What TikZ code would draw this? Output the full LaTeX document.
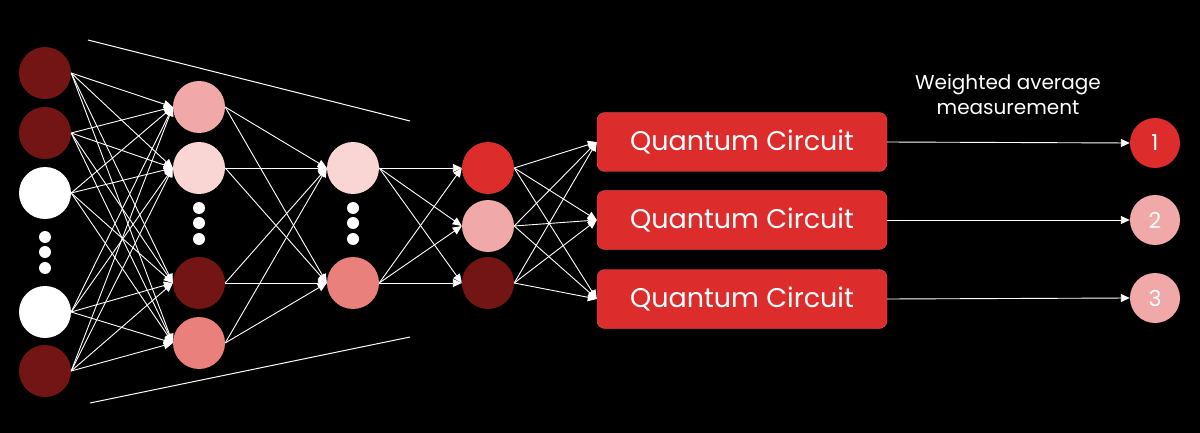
\documentclass[tikz,border=0pt]{standalone}
\usepackage{fontspec}
\setmainfont{Poppins}
\usetikzlibrary{arrows.meta}
\definecolor{dk}{HTML}{741515}
\definecolor{rd}{HTML}{DD2C2C}
\definecolor{pk}{HTML}{F0A8A8}
\definecolor{lp}{HTML}{F9D5D3}
\definecolor{sl}{HTML}{E9807C}
\begin{document}
\begin{tikzpicture}[x=1pt,y=-1pt,
 neur/.style={circle,minimum size=52pt,inner sep=0pt},
 dotn/.style={circle,fill=white,minimum size=12pt,inner sep=0pt},
 edge/.style={white,line width=0.9pt,-{Triangle[width=8pt,length=9pt]}},
 qc/.style={rounded corners=8pt,fill=rd,draw=rd!80!white,minimum width=290pt,minimum height=59pt,text=white,font=\fontsize{27}{30}\selectfont}]
\fill[black] (0,0) rectangle (1200,433);
\useasboundingbox (0,0) rectangle (1200,433);
% layer 1
\node[neur,fill=dk] (a1) at (45,73) {};
\node[neur,fill=dk] (a2) at (45,133) {};
\node[neur,fill=white] (a3) at (45,193) {};
\node[neur,fill=white] (a4) at (45,312) {};
\node[neur,fill=dk] (a5) at (45,371) {};
\foreach \y [count=\i] in {237,252,268} \node[dotn] (ad\i) at (45,\y) {};
% layer 2
\node[neur,fill=pk] (b1) at (199,107) {};
\node[neur,fill=lp] (b2) at (199,168) {};
\node[neur,fill=dk] (b3) at (199,283) {};
\node[neur,fill=sl] (b4) at (199,343) {};
\foreach \y [count=\i] in {208,223,239} \node[dotn] (bd\i) at (199,\y) {};
% layer 3
\node[neur,fill=lp] (c1) at (353,168) {};
\node[neur,fill=sl] (c2) at (353,283) {};
\foreach \y [count=\i] in {208,223,239} \node[dotn] (cd\i) at (353,\y) {};
% layer 4
\node[neur,fill=rd] (d1) at (488,168) {};
\node[neur,fill=pk] (d2) at (488,226) {};
\node[neur,fill=dk] (d3) at (488,283) {};
% boxes
\node[qc] (q1) at (742,142) {Quantum Circuit};
\node[qc] (q2) at (742,220) {Quantum Circuit};
\node[qc] (q3) at (742,299) {Quantum Circuit};
% outputs
\node[neur,minimum size=50pt,fill=rd,text=white,font=\fontsize{22}{24}\selectfont] (o1) at (1155,143) {1};
\node[neur,minimum size=50pt,fill=pk,text=white,font=\fontsize{22}{24}\selectfont] (o2) at (1155,220) {2};
\node[neur,minimum size=50pt,fill=pk,text=white,font=\fontsize{22}{24}\selectfont] (o3) at (1155,298) {3};
\node[text=white,align=center,font=\fontsize{20}{25}\selectfont] (lab) at (1008,94) {Weighted average\\measurement};
% edges
\foreach \i in {a1,a2,a3,a4,a5} \foreach \j in {b1,b2,b3,b4} \draw[edge] (\i.east) -- (\j.west);
\foreach \i in {b1,b2,b3,b4} \foreach \j in {c1,c2} \draw[edge] (\i.east) -- (\j.west);
\foreach \i in {c1,c2} \foreach \j in {d1,d2,d3} \draw[edge] (\i.east) -- (\j.west);
\foreach \i in {d1,d2,d3} \foreach \j in {q1,q2,q3} \draw[edge] (\i.east) -- (\j.west);
\draw[edge] (q1.east) -- (o1.west);
\draw[edge] (q2.east) -- (o2.west);
\draw[edge] (q3.east) -- (o3.west);
% funnel lines
\coordinate (t1) at (88,40); \coordinate (t2) at (410,121);
\coordinate (u1) at (90,403); \coordinate (u2) at (410,337);
\draw[white,line width=1pt] (t1) -- (t2);
\draw[white,line width=1pt] (u1) -- (u2);
\end{tikzpicture}
\end{document}
